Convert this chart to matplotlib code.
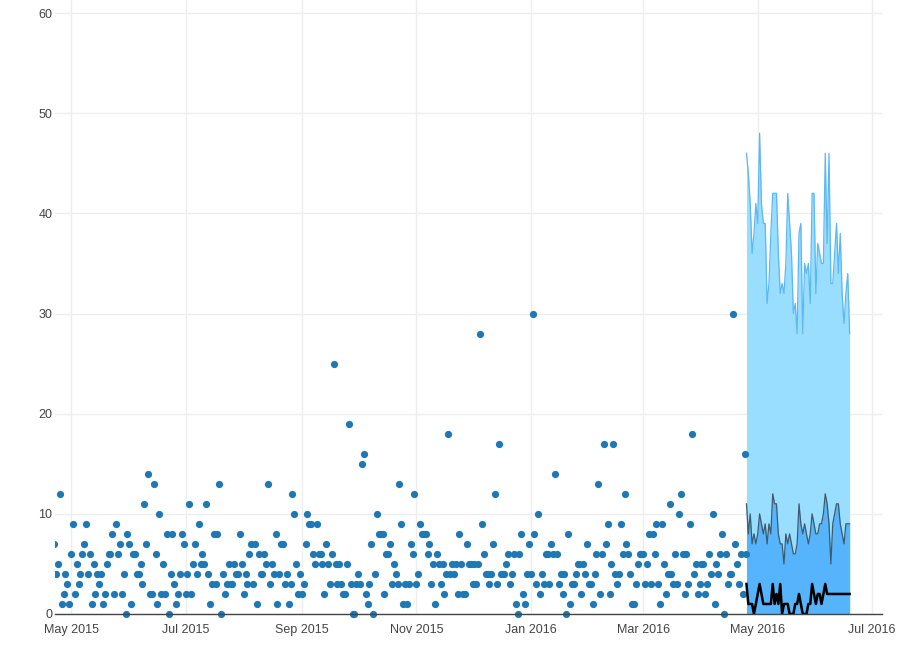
import numpy as np
import pandas as pd
import matplotlib
matplotlib.use("Agg")
import matplotlib.pyplot as plt
import matplotlib.dates as mdates
from matplotlib.patches import Rectangle

# daily counts
start_date = "2015-04-22"
counts_2015_a = [
    7, 4, 5, 12, 1, 2, 4, 3, 1, 6, 9, 2, 5, 3, 4, 6, 7, 9, 4, 6,
    1, 5, 2, 4, 3, 4, 1, 2, 5, 6, 6, 8, 2, 9, 6, 7, 2, 4, 0, 8,
    7, 1, 6, 6, 4, 4, 5, 3, 11, 7, 14, 2, 2, 13, 6, 1, 10, 2, 5, 2,
    8, 0, 4, 8, 3, 1, 2, 4, 8, 7, 2, 4, 11, 2, 5, 7, 4, 9, 5, 6,
    5, 11, 4, 1, 3, 8, 3, 8, 13, 0, 4, 2, 3, 5, 3, 3, 5, 4, 4, 8,
    5, 2, 4, 3, 6, 7, 3, 7, 1, 6, 4, 4, 6, 5, 13, 3, 5, 4, 8, 1,
    4, 7, 7, 3, 4, 1, 3, 12, 10, 5, 2, 4, 2, 3, 7, 10, 9, 9, 6, 5,
    9, 6, 6, 5, 2, 7, 5, 3, 6, 25, 5, 3, 5,
]
counts_2015_b = [
    3, 2, 2, 5, 19, 3, 0, 0, 3, 4, 3, 15, 16, 2, 1, 3, 7, 0, 4, 10,
    8, 8, 8, 2, 6, 6, 7, 3, 5, 4, 3, 13, 9, 1, 3, 1, 3, 7, 6, 12,
    3, 4, 9, 8, 8, 8, 6, 7, 3, 5, 1, 6, 5, 3, 5, 2, 4, 18, 4, 5,
    4, 5, 2, 8, 5, 2, 2, 7, 5, 5, 3, 5, 3, 5, 28, 9, 6, 4, 4, 3,
    4, 7, 12, 3, 17, 4, 4, 4, 5, 6, 3, 4, 6, 1, 0, 6, 8, 2, 1, 4,
    7, 4, 30, 8, 3, 10, 2, 4, 3, 6, 6, 3, 7, 6, 14, 6, 3, 4, 2, 4,
    0, 8, 1, 3, 3, 4, 5, 5, 2, 5, 4, 7, 3, 3, 1, 4, 6, 13,
]
counts_2016 = [
    2, 6, 17, 7, 9, 2, 5, 17, 4, 3, 4, 9, 6, 12, 7, 6, 4, 1, 1, 3, 5, 6,
    6, 6, 3, 5, 8, 3, 8, 6, 9, 3, 1, 9, 5, 2, 4, 11, 4, 3, 6, 3,
    10, 12, 6, 2, 6, 3, 9, 18, 4, 5, 2, 3, 5, 5, 2, 3, 6, 4, 10, 1,
    5, 4, 6, 8, 0, 6, 3, 4, 4, 30, 7, 5, 3, 6, 2, 16, 6,
]

# forecast
forecast_start = "2016-04-25"
forecast_upper = [
    46, 44, 41, 36, 38, 41, 39, 48, 41, 39, 39, 31, 33, 38, 42, 42, 42, 36, 32, 33,
    32, 35, 42, 39, 36, 30, 31, 28, 38, 39, 28, 35, 34, 35, 31, 42, 42, 32, 37, 36,
    35, 35, 46, 37, 46, 33, 33, 36, 39, 34, 38, 32, 29, 32, 34, 28,
]
forecast_mid = [
    11, 8, 10, 7, 8, 7, 8, 10, 9, 8, 9, 7, 9, 8, 12, 11, 11, 8, 7, 7,
    5, 8, 7, 8, 7, 6, 6, 7, 11, 9, 8, 9, 8, 7, 8, 10, 9, 8, 8, 9,
    9, 10, 12, 11, 9, 5, 9, 10, 11, 11, 9, 8, 7, 9, 9, 9,
]
forecast_median = [
    3, 1, 1, 1, 0, 1, 2, 3, 2, 1, 1, 1, 1, 1, 3, 1, 2, 1, 3, 0,
    1, 1, 1, 0, 0, 0, 1, 1, 2, 1, 0, 0, 0, 1, 1, 3, 2, 1, 2, 2,
    1, 2, 3, 2, 2, 2, 2, 2, 2, 2, 2, 2, 2, 2, 2, 2,
]

counts = counts_2015_a + counts_2015_b + counts_2016
dates = pd.date_range(start_date, periods=len(counts), freq="D")
fdates = pd.date_range(forecast_start, periods=len(forecast_upper), freq="D")

plt.rcParams["font.family"] = ["Liberation Sans", "DejaVu Sans"]
fig = plt.figure(figsize=(9.12, 6.5), dpi=100)
ax = fig.add_axes([55 / 912, 36 / 650, 827 / 912, 614 / 650])

ax.fill_between(fdates, 0, forecast_upper, color="#99ddff", lw=0, zorder=2)
ax.plot(fdates, forecast_upper, color="#5cb8f5", lw=0.9, zorder=3)
ax.fill_between(fdates, 0, forecast_mid, color="#55b4fc", lw=0, zorder=3)
ax.plot(fdates, forecast_mid, color="#3d5a6e", lw=0.9, zorder=4)
ax.plot(fdates, forecast_median, color="black", lw=1.8, zorder=5)

pts, = ax.plot(dates, counts, "o", ms=5.2, color="#1f77b4", mew=0, zorder=4)
# keep dots at 0 whole, but cut them at the left edge
clip = Rectangle((0, -0.05), 1, 1.1, transform=ax.transAxes, fill=False)
pts.set_clip_path(clip)

ax.set_xlim(pd.Timestamp("2015-04-22 10:00"), pd.Timestamp("2016-07-06 06:00"))
ax.set_ylim(0, 61.3)
ax.set_yticks(np.arange(0, 61, 10))
ax.xaxis.set_major_locator(mdates.MonthLocator(bymonth=[1, 3, 5, 7, 9, 11]))
ax.xaxis.set_major_formatter(mdates.DateFormatter("%b %Y"))

ax.grid(True, color="#eeeeee", lw=1, zorder=0)
ax.set_axisbelow(True)
for s in ["top", "right", "left"]:
    ax.spines[s].set_visible(False)
ax.spines["bottom"].set_color("#444444")
ax.spines["bottom"].set_linewidth(1)
ax.spines["bottom"].set_zorder(6)
ax.tick_params(length=0, labelsize=9, labelcolor="#444444")
ax.tick_params(axis="x", pad=7)
ax.tick_params(axis="y", pad=2)

fig.savefig("out.png", dpi=100)
